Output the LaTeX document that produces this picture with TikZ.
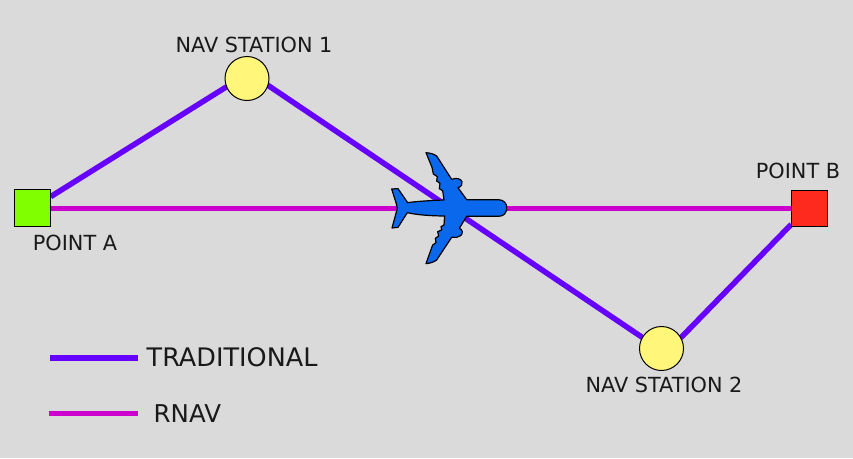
\documentclass[tikz,border=0pt]{standalone}
\usepackage{fontspec}
\setmainfont{DejaVu Sans}
\definecolor{bgc}{HTML}{DADADA}
\definecolor{trad}{HTML}{6600FF}
\definecolor{rnavc}{HTML}{CC00CC}
\definecolor{planec}{HTML}{0A68EC}
\definecolor{startc}{HTML}{80FF00}
\definecolor{endc}{HTML}{FF2A1E}
\definecolor{navc}{HTML}{FFF67A}
\pgfdeclarelayer{backlay}
\pgfdeclarelayer{linelay}
\pgfsetlayers{backlay,linelay,main}
\tikzset{
  sq/.style={draw=black,line width=1.3pt,minimum size=36.5pt,inner sep=0pt,outer sep=0pt},
  nav/.style={circle,draw=black,line width=1pt,fill=navc,minimum size=44pt,inner sep=0pt,outer sep=0pt},
  tradline/.style={trad,line width=5.5pt},
  rnavline/.style={rnavc,line width=5.5pt},
  lab/.style={font=\fontsize{20.8}{22}\selectfont,text=black!90,inner sep=0pt},
  leglab/.style={font=\fontsize{25.5}{27}\selectfont,text=black!90,inner sep=0pt,anchor=west}
}
\begin{document}
\begin{tikzpicture}[x=1pt,y=-1pt]
\begin{pgfonlayer}{backlay}
\fill[bgc] (0,0) rectangle (853,458);
\end{pgfonlayer}
\useasboundingbox (0,0) rectangle (853,458);
\node[sq,fill=startc] (A) at (32.5,208) {};
\node[sq,fill=endc] (B) at (809.5,208.5) {};
\node[nav] (N1) at (247,78.5) {};
\node[nav] (N2) at (661.5,348.5) {};
\begin{pgfonlayer}{linelay}
\draw[tradline] (A.32.5) -- (N1.202);
\draw[tradline] (N1.-18) -- (N2.150);
\draw[tradline] (N2.29) -- (B.221);
\draw[rnavline] (A.east |- B.west) -- (B.west);
\end{pgfonlayer}
\node[lab] (t1) at (254,45) {NAV STATION 1};
\node[lab] (t2) at (664,385) {NAV STATION 2};
\node[lab] (ta) at (75,243) {POINT A};
\node[lab] (tb) at (798,171) {POINT B};
\coordinate (l1a) at (50,358); \coordinate (l1b) at (138,358);
\coordinate (l2a) at (48.5,413.5); \coordinate (l2b) at (138,413.5);
\draw[tradline] (l1a) -- (l1b);
\draw[rnavline] (l2a) -- (l2b);
\node[leglab] (lt) at (146.5,357) {TRADITIONAL};
\node[leglab,font=\fontsize{24.5}{27}\selectfont] (lr) at (153.5,414) {RNAV};
\begin{scope}[shift={(370,130)},x=0.3333pt,y=-0.3333pt]
\draw[black,line width=1.2pt,fill=planec,line join=round]
 (385,209) .. controls (402,209) and (412,222) .. (410,235)
 .. controls (410,248) and (402,259) .. (385,259)
 -- (290,259) -- (268,295) .. controls (278,298) and (280,310) .. (272,317)
 .. controls (265,323) and (255,323) .. (245,322)
 -- (200,390) .. controls (192,396) and (180,400) .. (168,401)
 -- (188,345) -- (198,338) -- (196,325) -- (206,318) -- (203,305) -- (215,300) -- (213,290) -- (222,285)
 -- (224,258) .. controls (190,258) and (140,255) .. (112,248)
 -- (84,292) -- (66,294) -- (78,250) -- (82,235) -- (78,218) -- (65,177) -- (84,176) -- (113,218)
 .. controls (140,214) and (190,211) .. (222,210)
 -- (218,182) -- (208,176) -- (210,160) -- (200,153) -- (202,140) -- (190,132) -- (186,112)
 -- (168,68) .. controls (180,69) and (192,72) .. (200,78)
 -- (245,148) .. controls (258,143) and (272,145) .. (276,155)
 .. controls (279,163) and (273,171) .. (264,173)
 -- (290,209) -- cycle;
\end{scope}
\end{tikzpicture}
\end{document}
